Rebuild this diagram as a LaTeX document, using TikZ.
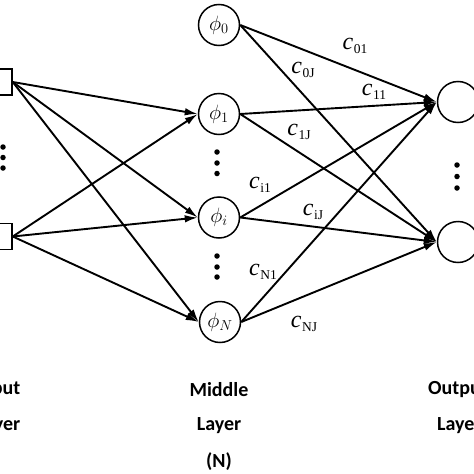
\documentclass[tikz,border=0pt]{standalone}
\usepackage{fontspec}
\setmainfont{Liberation Serif}
\newfontfamily\lblfont{Carlito}
\usetikzlibrary{arrows.meta}
\newcommand{\cw}[1]{{\fontsize{24}{24}\selectfont\itshape c}\kern0.5pt\raisebox{-4pt}{\fontsize{13.5}{13.5}\selectfont #1}}
\newcommand{\ph}[1]{\fontsize{22}{22}\selectfont$\phi_{#1}$}
\tikzset{
  neuron/.style={circle,draw,line width=1.5pt,minimum size=41pt,inner sep=0pt},
  inbox/.style={rectangle,draw,line width=1.5pt,minimum size=26pt,inner sep=0pt},
  conn/.style={line width=1.9pt,-{Latex[length=13pt,width=7.5pt]}},
  dotm/.style={circle,fill,inner sep=0pt,minimum size=5.5pt},
  layerlbl/.style={font=\lblfont\bfseries\fontsize{20}{20}\selectfont,inner sep=0pt},
  wlbl/.style={inner sep=0pt}
}
\begin{document}
\begin{tikzpicture}[x=1pt,y=-1pt]
\useasboundingbox (0,0) rectangle (474,474);
\clip (0,0) rectangle (474,474);
% input
\node[inbox] (in1) at (-1,82) {};
\node[inbox] (in2) at (-1,236.5) {};
\node[dotm] (ld1) at (3,147) {};
\node[dotm] (ld2) at (3,157.5) {};
\node[dotm] (ld3) at (3,168) {};
% middle
\node[neuron] (p0) at (219,25) {\ph{0}};
\node[neuron] (p1) at (219,114) {\ph{1}};
\node[neuron] (pi) at (219,217.5) {\ph{i}};
\node[neuron] (pN) at (220,322) {\ph{N}};
\node[dotm] (md1) at (217,152) {};
\node[dotm] (md2) at (217,163) {};
\node[dotm] (md3) at (217,173.5) {};
\node[dotm] (md4) at (217,256) {};
\node[dotm] (md5) at (217,267) {};
\node[dotm] (md6) at (217,277) {};
% output
\node[neuron] (o1) at (458,102) {};
\node[neuron] (o2) at (458,242) {};
\node[dotm] (od1) at (457,165) {};
\node[dotm] (od2) at (457,176.5) {};
\node[dotm] (od3) at (457,188) {};
% input edges
\foreach \s in {in1,in2}{
  \foreach \t in {p1,pi,pN}{
    \draw[conn] (\s.east) -- (\t.west);
  }
}
% middle to output
\foreach \s in {p0,p1,pi,pN}{
  \foreach \t in {o1,o2}{
    \draw[conn] (\s.east) -- (\t.west);
  }
}
% weight labels
\node[wlbl] (c01) at (355,46) {\cw{01}};
\node[wlbl] (c0J) at (303,70) {\cw{0J}};
\node[wlbl] (c11) at (374,92) {\cw{11}};
\node[wlbl] (c1J) at (299,132) {\cw{1J}};
\node[wlbl] (ci1) at (260,185) {\cw{i1}};
\node[wlbl] (ciJ) at (313,212) {\cw{iJ}};
\node[wlbl] (cN1) at (263,272) {\cw{N1}};
\node[wlbl] (cNJ) at (304,324) {\cw{NJ}};
% layer labels
\node[layerlbl] (t1) at (-2,390) {Input};
\node[layerlbl] (t2) at (-2,426) {Layer};
\node[layerlbl] (t3) at (219,390) {Middle};
\node[layerlbl] (t4) at (219,426) {Layer};
\node[layerlbl] (t5) at (219,462) {(N)};
\node[layerlbl,anchor=west] (t6) at (428,390) {Output};
\node[layerlbl,anchor=west] (t7) at (437,426) {Layer};
\end{tikzpicture}
\end{document}
